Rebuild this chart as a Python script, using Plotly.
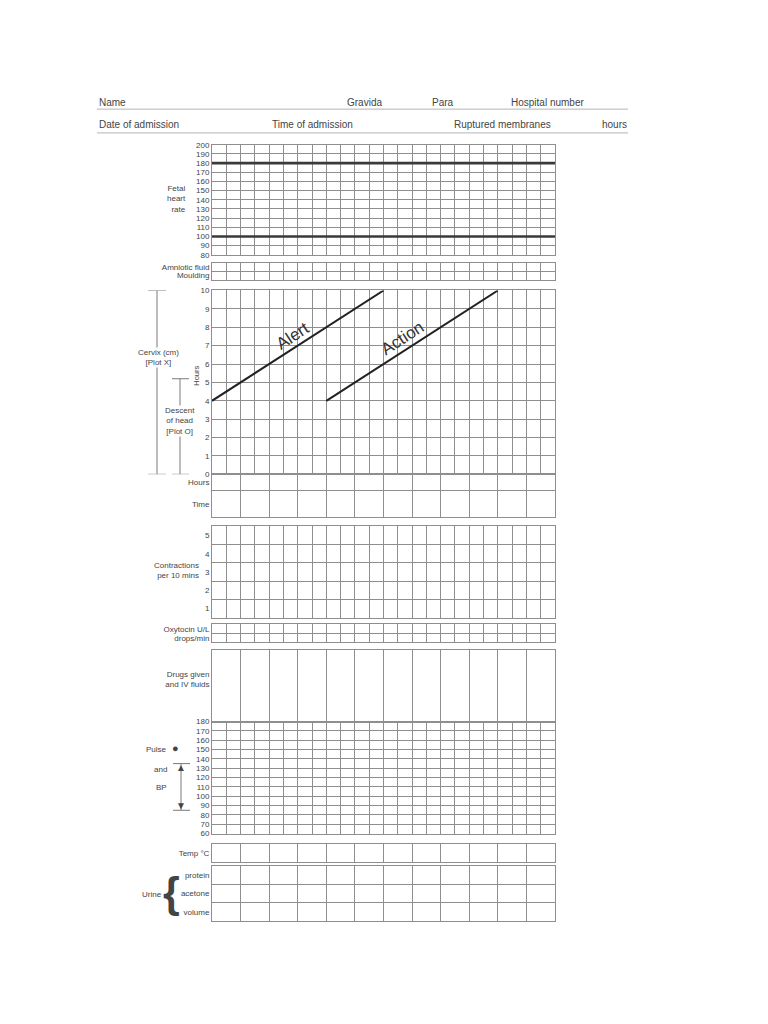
import plotly.graph_objects as go

hours_span = [0, 12]
fhr_ticks = list(range(80, 201, 10))
fhr_limits = [100, 180]
amniotic_rows = ["Amniotic fluid", "Moulding"]
cervix_ticks = list(range(0, 11))
alert_hours = [0, 6]
alert_cm = [4, 10]
action_hours = [4, 10]
action_cm = [4, 10]
time_rows = ["Hours", "Time"]
contraction_ticks = [1, 2, 3, 4, 5]
oxytocin_rows = ["Oxytocin U/L", "drops/min"]
drug_rows = ["Drugs given<br>and IV fluids"]
pulse_ticks = list(range(60, 181, 10))
temp_rows = ["Temp °C"]
urine_rows = ["protein", "acetone", "volume"]
header_top = ["Name", "Gravida", "Para", "Hospital number"]
header_bottom = ["Date of admission", "Time of admission", "Ruptured membranes", "hours"]

# ---- page geometry (pixels of the 768x1024 page) ----
PAD = 8                      # body margin of the html page
W, H = 768 - 2 * PAD, 1024 - 2 * PAD
X0, X1 = 212, 555
GRID = "#8e8e8e"
TXT = "#444444"
FONT = "Liberation Sans, Arial, sans-serif"
TICKFONT = dict(family=FONT, size=8, color=TXT)


def px(x):
    return (x - PAD) / W


def py(y):
    return 1 - (y - PAD) / H


fig = go.Figure()


def panel(n, top, bottom, yrange, xstep, **yopts):
    s = "" if n == 1 else str(n)
    xa = dict(domain=[px(X0), px(X1)], range=hours_span, anchor="y" + s,
              tickmode="linear", tick0=0, dtick=xstep,
              showgrid=True, gridcolor=GRID, gridwidth=1,
              showticklabels=False, ticks="", zeroline=False,
              showline=True, mirror=True, linecolor=GRID, linewidth=1,
              fixedrange=True)
    ya = dict(domain=[py(bottom), py(top)], range=yrange, anchor="x" + s,
              zeroline=False, showline=True, mirror=True, linecolor=GRID,
              linewidth=1, ticks="", showgrid=False, tickfont=TICKFONT,
              fixedrange=True)
    ya.update(yopts)
    fig.update_layout(**{"xaxis" + s: xa, "yaxis" + s: ya})
    # invisible trace so plotly draws the empty panel
    fig.add_trace(go.Scatter(x=hours_span, y=yrange, mode="markers",
                             marker=dict(opacity=0), xaxis="x" + s,
                             yaxis="y" + s, hoverinfo="skip"))


def rows_minor(vals):
    return dict(tickmode="array", tickvals=vals, showgrid=True,
                gridcolor=GRID, gridwidth=1, ticks="")


# fetal heart rate
panel(1, 142, 253, [80, 200], 0.5, tickmode="array", tickvals=fhr_ticks,
      showgrid=True, gridcolor=GRID)
# amniotic fluid / moulding
panel(2, 261, 278, [0, 2], 0.5, tickmode="array", tickvals=[1.5, 0.5],
      ticktext=amniotic_rows, minor=rows_minor([1]))
# cervix
panel(3, 289, 474.5, [0, 10], 0.5, tickmode="array", tickvals=cervix_ticks,
      showgrid=True, gridcolor=GRID)
# hours / time
panel(4, 474.5, 518, [0, 1], 1, tickmode="array", tickvals=[0.81, 0.31],
      ticktext=time_rows, minor=rows_minor([0.62]))
# contractions
panel(5, 527, 619, [0, 5], 0.5, tickmode="array",
      tickvals=[v - 0.5 for v in contraction_ticks],
      ticktext=[str(v) for v in contraction_ticks], minor=rows_minor([1, 2, 3, 4]))
# oxytocin
panel(6, 626, 644, [0, 2], 0.5, tickmode="array", tickvals=[1.5, 0.5],
      ticktext=oxytocin_rows, minor=rows_minor([1]))
# drugs
panel(7, 652, 724, [0, 1], 1, tickmode="array", tickvals=[0.59],
      ticktext=drug_rows)
# pulse and BP
panel(8, 724, 837, [60, 180], 0.5, tickmode="array", tickvals=pulse_ticks,
      showgrid=True, gridcolor=GRID)
# temperature
panel(9, 847, 866, [0, 1], 1, tickmode="array", tickvals=[0.5],
      ticktext=temp_rows)
# urine
panel(10, 870, 925, [0, 3], 1, tickmode="array", tickvals=[2.5, 1.5, 0.5],
      ticktext=urine_rows, minor=rows_minor([1, 2]))

# FHR limit lines
for lim in fhr_limits:
    fig.add_trace(go.Scatter(x=hours_span, y=[lim, lim], mode="lines",
                             line=dict(color="#3a3a3a", width=2.6),
                             xaxis="x", yaxis="y", hoverinfo="skip"))

# alert and action lines
fig.add_trace(go.Scatter(x=alert_hours, y=alert_cm, mode="lines",
                         line=dict(color="#222222", width=2),
                         xaxis="x3", yaxis="y3", hoverinfo="skip"))
fig.add_trace(go.Scatter(x=action_hours, y=action_cm, mode="lines",
                         line=dict(color="#222222", width=2),
                         xaxis="x3", yaxis="y3", hoverinfo="skip"))

ann = []
ann.append(dict(text="Alert", x=2.8, y=7.52, xref="x3", yref="y3",
                showarrow=False, textangle=-33,
                font=dict(family=FONT, size=17, color="#333")))
ann.append(dict(text="Action", x=6.65, y=7.38, xref="x3", yref="y3",
                showarrow=False, textangle=-33,
                font=dict(family=FONT, size=17, color="#333")))

# header
for label, x in zip(header_top, [97, 345, 430, 509]):
    ann.append(dict(text=label, x=px(x), y=py(99), xref="paper", yref="paper",
                    xanchor="left", yanchor="middle", showarrow=False,
                    font=dict(family=FONT, size=10, color=TXT)))
for label, x in zip(header_bottom, [97, 270, 452, 600]):
    ann.append(dict(text=label, x=px(x), y=py(122), xref="paper", yref="paper",
                    xanchor="left", yanchor="middle", showarrow=False,
                    font=dict(family=FONT, size=10, color=TXT)))


def side(text, x, y, anchor="right", bg=None, angle=0, size=8, bold=False):
    d = dict(text=text, x=px(x), y=py(y), xref="paper", yref="paper",
             xanchor=anchor, yanchor="middle", showarrow=False,
             align=anchor if anchor != "center" else "center",
             textangle=angle, borderpad=0,
             font=dict(family=FONT, size=size, color=TXT))
    if bg:
        d["bgcolor"] = bg
    if bold:
        d["font"]["weight"] = "bold"
    ann.append(d)


side("Fetal<br>heart<br>rate", 187, 197)
side("Cervix (cm)<br>[Plot X]", 158, 357, anchor="center", bg="white")
side("Descent<br>of head<br>[Plot O]", 180, 421, anchor="center", bg="white")
side("Hours", 197, 375, anchor="center", angle=-90, size=7.5)
side("Contractions<br>per 10 mins", 200, 572)
side("Pulse", 168, 752)
side("●", 175, 751, anchor="center", size=11)
side("and", 168, 772)
side("BP", 168, 790)
side("▲", 181, 770, anchor="center", size=10)
side("▼", 181, 809, anchor="center", size=10)
side("Urine", 163, 898)
side("{", 171, 896, anchor="center", size=43, bold=True)

shapes = []
for y in [106, 130]:
    shapes.append(dict(type="line", xref="paper", yref="paper",
                       x0=px(97), x1=px(628), y0=py(y), y1=py(y),
                       line=dict(color="#b4b4b4", width=1)))


def bracket(xc, x0, x1, yref, lo, hi):
    shapes.append(dict(type="line", xref="paper", yref=yref, x0=px(xc), x1=px(xc),
                       y0=lo, y1=hi, line=dict(color="#7a7a7a", width=1),
                       layer="below"))
    for v in (lo, hi):
        shapes.append(dict(type="line", xref="paper", yref=yref, x0=px(x0),
                           x1=px(x1), y0=v, y1=v,
                           line=dict(color="#7a7a7a", width=1)))


bracket(157, 148, 166, "y3", 0, 10)
bracket(180, 172, 189, "y3", 0, 5.2)
bracket(181, 173, 190, "y8", 85, 135)

fig.update_layout(width=W, height=H, margin=dict(l=0, r=0, t=0, b=0),
                  paper_bgcolor="white", plot_bgcolor="white",
                  showlegend=False, annotations=ann, shapes=shapes)

fig.write_html("out.html")
